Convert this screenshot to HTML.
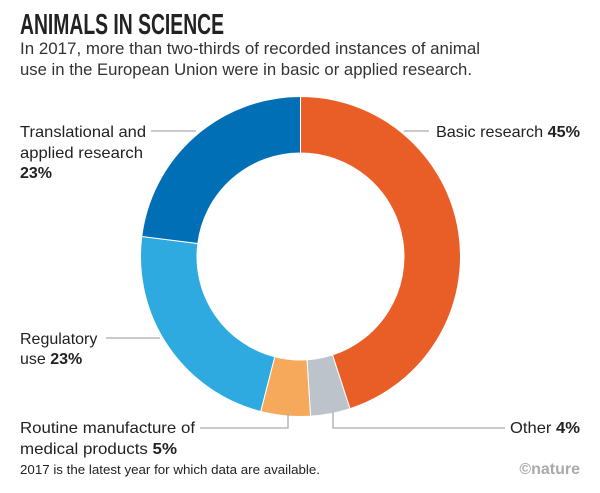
<!DOCTYPE html>
<html><head><meta charset="utf-8"><style>
body{margin:0;background:#fff;width:600px;height:488px;overflow:hidden;font-family:"Liberation Sans",sans-serif;color:#222}
</style></head><body>
<svg width="600" height="488" viewBox="0 0 600 488" xmlns="http://www.w3.org/2000/svg" font-family="Liberation Sans, sans-serif">
<text x="20" y="34" font-size="29" font-weight="bold" fill="#222" textLength="204" lengthAdjust="spacingAndGlyphs">ANIMALS IN SCIENCE</text>
<text x="20" y="54" font-size="17" fill="#333" textLength="460" lengthAdjust="spacingAndGlyphs">In 2017, more than two-thirds of recorded instances of animal</text>
<text x="20" y="75" font-size="17" fill="#333" textLength="452" lengthAdjust="spacingAndGlyphs">use in the European Union were in basic or applied research.</text>
<g id="d"></g>
<g stroke="#aaa" stroke-width="1.3" fill="none">
<line x1="404" y1="131" x2="429" y2="131"/>
<line x1="151" y1="131" x2="196" y2="131"/>
<line x1="106" y1="338" x2="160" y2="338"/>
<polyline points="200,428 288,428 288,413"/>
<polyline points="333,412 333,428 505,428"/>
</g>
<g font-size="16" fill="#222">
<text x="436" y="137" textLength="144" lengthAdjust="spacingAndGlyphs">Basic research <tspan font-weight="bold">45%</tspan></text>
<text x="20" y="137" textLength="126" lengthAdjust="spacingAndGlyphs">Translational and</text>
<text x="20" y="158" textLength="123" lengthAdjust="spacingAndGlyphs">applied research</text>
<text x="20" y="178" font-weight="bold">23%</text>
<text x="20" y="344">Regulatory</text>
<text x="20" y="364">use <tspan font-weight="bold">23%</tspan></text>
<text x="20" y="433" textLength="175" lengthAdjust="spacingAndGlyphs">Routine manufacture of</text>
<text x="20" y="454" textLength="157" lengthAdjust="spacingAndGlyphs">medical products <tspan font-weight="bold">5%</tspan></text>
<text x="510" y="433" textLength="70" lengthAdjust="spacingAndGlyphs">Other <tspan font-weight="bold">4%</tspan></text>
</g>
<text x="20" y="474" font-size="12.5" fill="#222" textLength="300" lengthAdjust="spacingAndGlyphs">2017 is the latest year for which data are available.</text>
<text x="580" y="474" font-size="16" font-weight="bold" fill="#aaa" text-anchor="end">©nature</text>
</svg>
<script>
var cx=300.5,cy=256.5,R=160,r=103.5;
var segs=[[45,"#E95D27"],[4,"#BDC3CB"],[5,"#F6A95A"],[23,"#2EAAE1"],[23,"#006FB6"]];
var a=0,h="";
function pt(rad,ang){var t=ang/100*2*Math.PI;return [(cx+rad*Math.sin(t)).toFixed(2),(cy-rad*Math.cos(t)).toFixed(2)];}
segs.forEach(function(s){var b=a+s[0];var l=s[0]>50?1:0;
var p1=pt(R,a),p2=pt(R,b),p3=pt(r,b),p4=pt(r,a);
h+='<path fill="'+s[1]+'" stroke="#fff" stroke-width="1" d="M'+p1+' A'+R+','+R+' 0 '+l+' 1 '+p2+' L'+p3+' A'+r+','+r+' 0 '+l+' 0 '+p4+' Z"/>';a=b;});
document.getElementById("d").innerHTML=h;
</script>
</body></html>
